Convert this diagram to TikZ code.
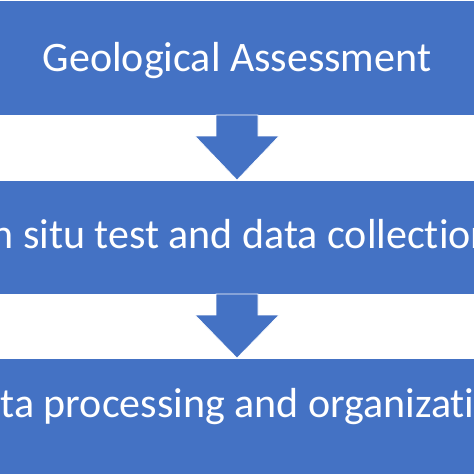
\documentclass[tikz,border=0pt]{standalone}
\usepackage{fontspec}
\setmainfont{Carlito}[Ligatures=NoCommon]
\usepackage{xcolor}
\usetikzlibrary{positioning,calc}
\definecolor{officeblue}{HTML}{4472C4}
% block arrow from the bottom of one band to the top of the next
\newcommand{\flowarrow}[2]{%
  \fill[flow] ($(#1.south)+(-21,0)$) -- ($(#1.south)+(21,0)$)
    -- ($(#1.south)+(21,-21)$) -- ($(#1.south)+(42,-21)$)
    -- (#2.north) -- ($(#1.south)+(-42,-21)$)
    -- ($(#1.south)+(-21,-21)$) -- cycle;}

\begin{document}
\begin{tikzpicture}[x=1pt,y=1pt]
  \tikzset{band/.style={rectangle, fill=officeblue, draw=white, line width=0.8pt,
                        minimum width=490pt, inner sep=0pt, outer sep=0pt},
           flow/.style={fill=officeblue, draw=white, line width=0.6pt},
           steptext/.style={text=white, inner sep=0pt, anchor=base,
                            font=\fontsize{42}{50}\selectfont}}
    \useasboundingbox (0,0) rectangle (474,-474);
    \clip (0,0) rectangle (474,-474);

    \node[band, minimum height=115pt] (geo) at (237,-57.5) {};
    \node[band, minimum height=114pt, below=65pt of geo] (insitu) {};
    \node[band, minimum height=124pt, below=64pt of insitu] (proc) {};

    \flowarrow{geo}{insitu}
    \flowarrow{insitu}{proc}

    \node[steptext] (geotext) at (237,-71) {Geological Assessment};
    \node[steptext] (insitutext) at (237,-248) {In situ test and data collection};
    \node[steptext] (proctext) at (237,-417) {Data processing and organization};
\end{tikzpicture}
\end{document}
